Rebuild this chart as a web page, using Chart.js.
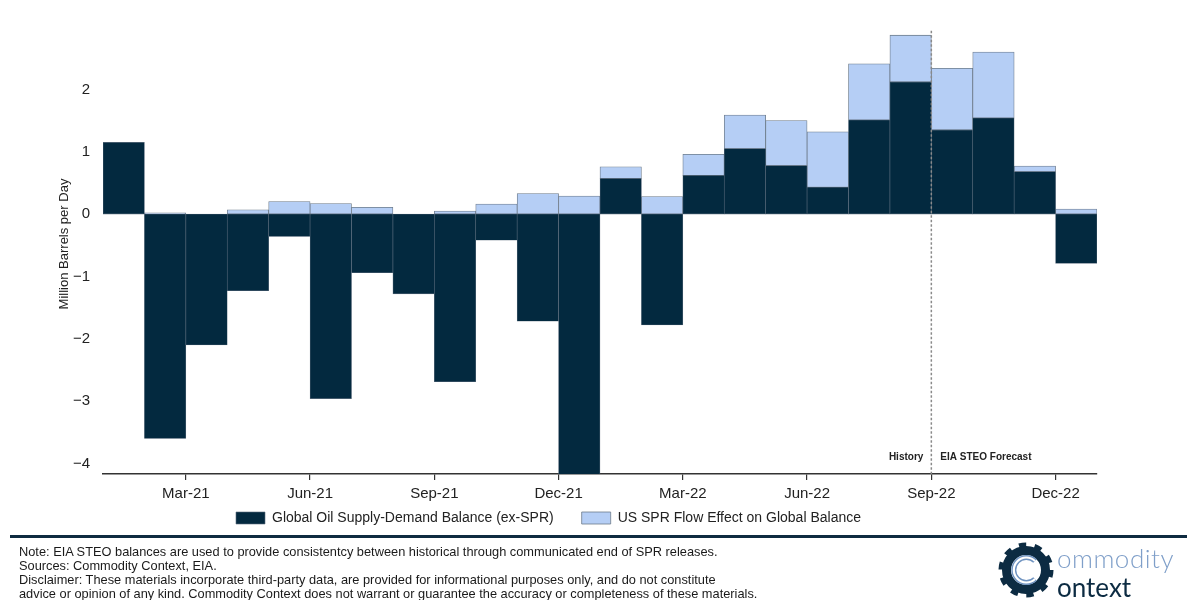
<!DOCTYPE html>
<html lang="en">
<head>
<meta charset="UTF-8">
<title>Global Oil Balance vs US SPR Flows</title>
<script src="https://cdn.jsdelivr.net/npm/chart.js"></script>
<style>
    html, body { margin: 0; padding: 0; background: #fff; }
    body {
        width: 1200px; height: 600px; overflow: hidden; position: relative;
        font-family: "Liberation Sans", Arial, sans-serif;
    }
    .chart-box { position: absolute; left: 0; top: 0; width: 1200px; height: 555px; }
    .rule { position: absolute; left: 10px; top: 535px; width: 1177px; height: 2.5px; background: #0f2b40; }
    .notes { position: absolute; left: 19px; top: 545px; font-size: 12.8px; line-height: 14px; color: #1a1a1a; white-space: nowrap; }
    .gear { position: absolute; left: 996px; top: 540px; }
    .brand { position: absolute; font-family: Lato, sans-serif; font-size: 26px; line-height: 26px; white-space: nowrap; }
    .brand.top { left: 1057px; top: 545px; color: #7f9fc9; font-weight: 300; letter-spacing: 0.5px; }
    .brand.bottom { left: 1057px; top: 574px; color: #0c2b42; font-weight: 400; }
</style>
</head>
<body>

<div class="chart-box"><canvas id="balanceChart"></canvas></div>

<div class="rule"></div>
<div class="notes">
    Note: EIA STEO balances are used to provide consistentcy between historical through communicated end of SPR releases.<br>
    Sources: Commodity Context, EIA.<br>
    Disclaimer: These materials incorporate third-party data, are provided for informational purposes only, and do not constitute<br>
    advice or opinion of any kind. Commodity Context does not warrant or guarantee the accuracy or completeness of these materials.
</div>

<!-- logo -->
<svg class="gear" width="60" height="60" viewBox="0 0 60 60">
    <circle cx="30" cy="30" r="24" fill="none" stroke="#0c2b42" stroke-width="7" stroke-dasharray="7 8.08"/>
    <circle cx="30" cy="30" r="19.5" fill="none" stroke="#0c2b42" stroke-width="9"/>
    <path d="M 39 21 A 12.5 12.5 0 1 0 39 39" fill="none" stroke="#6f93c0" stroke-width="5" stroke-linecap="butt"/>
    <path d="M 39 21 A 12.5 12.5 0 1 0 39 39" fill="none" stroke="#ffffff" stroke-width="2.2" stroke-linecap="butt"/>
</svg>
<div class="brand top">ommodity</div>
<div class="brand bottom">ontext</div>

<script>
const months = ['Jan-21', 'Feb-21', 'Mar-21', 'Apr-21', 'May-21', 'Jun-21', 'Jul-21', 'Aug-21',
                'Sep-21', 'Oct-21', 'Nov-21', 'Dec-21', 'Jan-22', 'Feb-22', 'Mar-22', 'Apr-22',
                'May-22', 'Jun-22', 'Jul-22', 'Aug-22', 'Sep-22', 'Oct-22', 'Nov-22', 'Dec-22'];
// million b/d
const balanceExSpr = [1.15, -3.60, -2.10, -1.23, -0.36, -2.96, -0.94, -1.28, -2.69, -0.42, -1.72, -4.30,
                      0.57, -1.78, 0.62, 1.05, 0.78, 0.43, 1.51, 2.12, 1.35, 1.54, 0.68, -0.79];
const sprEffect = [0.00, 0.02, 0.00, 0.07, 0.20, 0.17, 0.11, 0.00, 0.05, 0.16, 0.33, 0.29,
                   0.19, 0.28, 0.34, 0.54, 0.72, 0.89, 0.90, 0.75, 0.99, 1.06, 0.09, 0.08];
const tickMonths = ['Mar-21', 'Jun-21', 'Sep-21', 'Dec-21', 'Mar-22', 'Jun-22', 'Sep-22', 'Dec-22'];
const yTicks = [-4, -3, -2, -1, 0, 1, 2];
const forecastStart = 'Sep-22';

const FONT = '"Liberation Sans", Arial, sans-serif';
const LEGEND_GAP = 28;

// bars span a whole month: month i sits between i and i+1 on the x scale
function toPoints(vals) {
    return vals.map((v, i) => ({ x: i + 0.5, y: v }));
}

// dotted history / forecast divider
const phaseMarker = {
    id: 'phaseMarker',
    afterDatasetsDraw(chart) {
        const { ctx, scales: { x, y } } = chart;
        const px = x.getPixelForValue(months.indexOf(forecastStart));
        ctx.save();
        ctx.strokeStyle = '#8a8a8a';
        ctx.lineWidth = 1.5;
        ctx.setLineDash([2.5, 2]);
        ctx.beginPath();
        ctx.moveTo(px, y.getPixelForValue(2.94));
        ctx.lineTo(px, y.bottom);
        ctx.stroke();
        ctx.setLineDash([]);
        ctx.font = 'bold 10px ' + FONT;
        ctx.fillStyle = '#222';
        ctx.textBaseline = 'middle';
        const ty = y.getPixelForValue(-3.9);
        ctx.textAlign = 'right';
        ctx.fillText('History', px - 8, ty);
        ctx.textAlign = 'left';
        ctx.fillText('EIA STEO Forecast', px + 9, ty);
        ctx.restore();
    }
};

// legend padding is shared by item spacing and top gap; pull the row back up
const legendNudge = {
    id: 'legendNudge',
    afterLayout(chart) {
        const shift = LEGEND_GAP - 10;
        chart.legend.top -= shift;
        chart.legend.bottom -= shift;
    }
};

new Chart(document.getElementById('balanceChart'), {
    type: 'bar',
    data: {
        datasets: [{
            label: 'Global Oil Supply-Demand Balance (ex-SPR)',
            data: toPoints(balanceExSpr),
            backgroundColor: '#03293f',
            borderColor: '#5d6d7e',
            borderWidth: 0.6,
            borderSkipped: false
        }, {
            label: 'US SPR Flow Effect on Global Balance',
            data: toPoints(sprEffect),
            backgroundColor: '#b5cef5',
            borderColor: '#6d7b8a',
            borderWidth: 0.8,
            borderSkipped: false
        }]
    },
    options: {
        responsive: true,
        maintainAspectRatio: false,
        animation: false,
        barPercentage: 1,
        categoryPercentage: 1,
        clip: 0,
        layout: { padding: { left: 0, right: 103, top: 0, bottom: 2 } },
        plugins: {
            legend: {
                position: 'bottom',
                labels: {
                    boxWidth: 29,
                    boxHeight: 12,
                    padding: LEGEND_GAP,
                    color: '#222',
                    font: { family: FONT, size: 14 }
                }
            },
            tooltip: { enabled: false }
        },
        scales: {
            x: {
                type: 'linear',
                min: 0,
                max: months.length,
                offset: false,
                stacked: true,
                afterBuildTicks: (s) => { s.ticks = tickMonths.map(m => ({ value: months.indexOf(m) })); },
                afterFit: (s) => { s.height = 27; },
                ticks: {
                    autoSkip: false,
                    maxRotation: 0,
                    padding: 5,
                    color: '#222',
                    font: { family: FONT, size: 15 },
                    callback: (v) => months[v]
                },
                grid: { drawOnChartArea: false, drawTicks: true, tickLength: 6, color: '#333', lineWidth: 1.2, offset: false },
                border: { display: true, color: '#333', width: 1.5 }
            },
            y: {
                stacked: true,
                min: -4.17,
                max: 3.21,
                afterBuildTicks: (s) => { s.ticks = yTicks.map(v => ({ value: v })); },
                afterFit: (s) => { s.width = 103; },
                ticks: {
                    padding: 5,
                    color: '#222',
                    font: { family: FONT, size: 15 },
                    callback: (v) => v < 0 ? '\u2212' + Math.abs(v) : String(v)
                },
                grid: { display: false },
                border: { display: false },
                title: {
                    display: true,
                    text: 'Million Barrels per Day',
                    color: '#222',
                    font: { family: FONT, size: 13 },
                    padding: { top: 57, bottom: 0 }
                }
            }
        }
    },
    plugins: [phaseMarker, legendNudge]
});
</script>
</body>
</html>
